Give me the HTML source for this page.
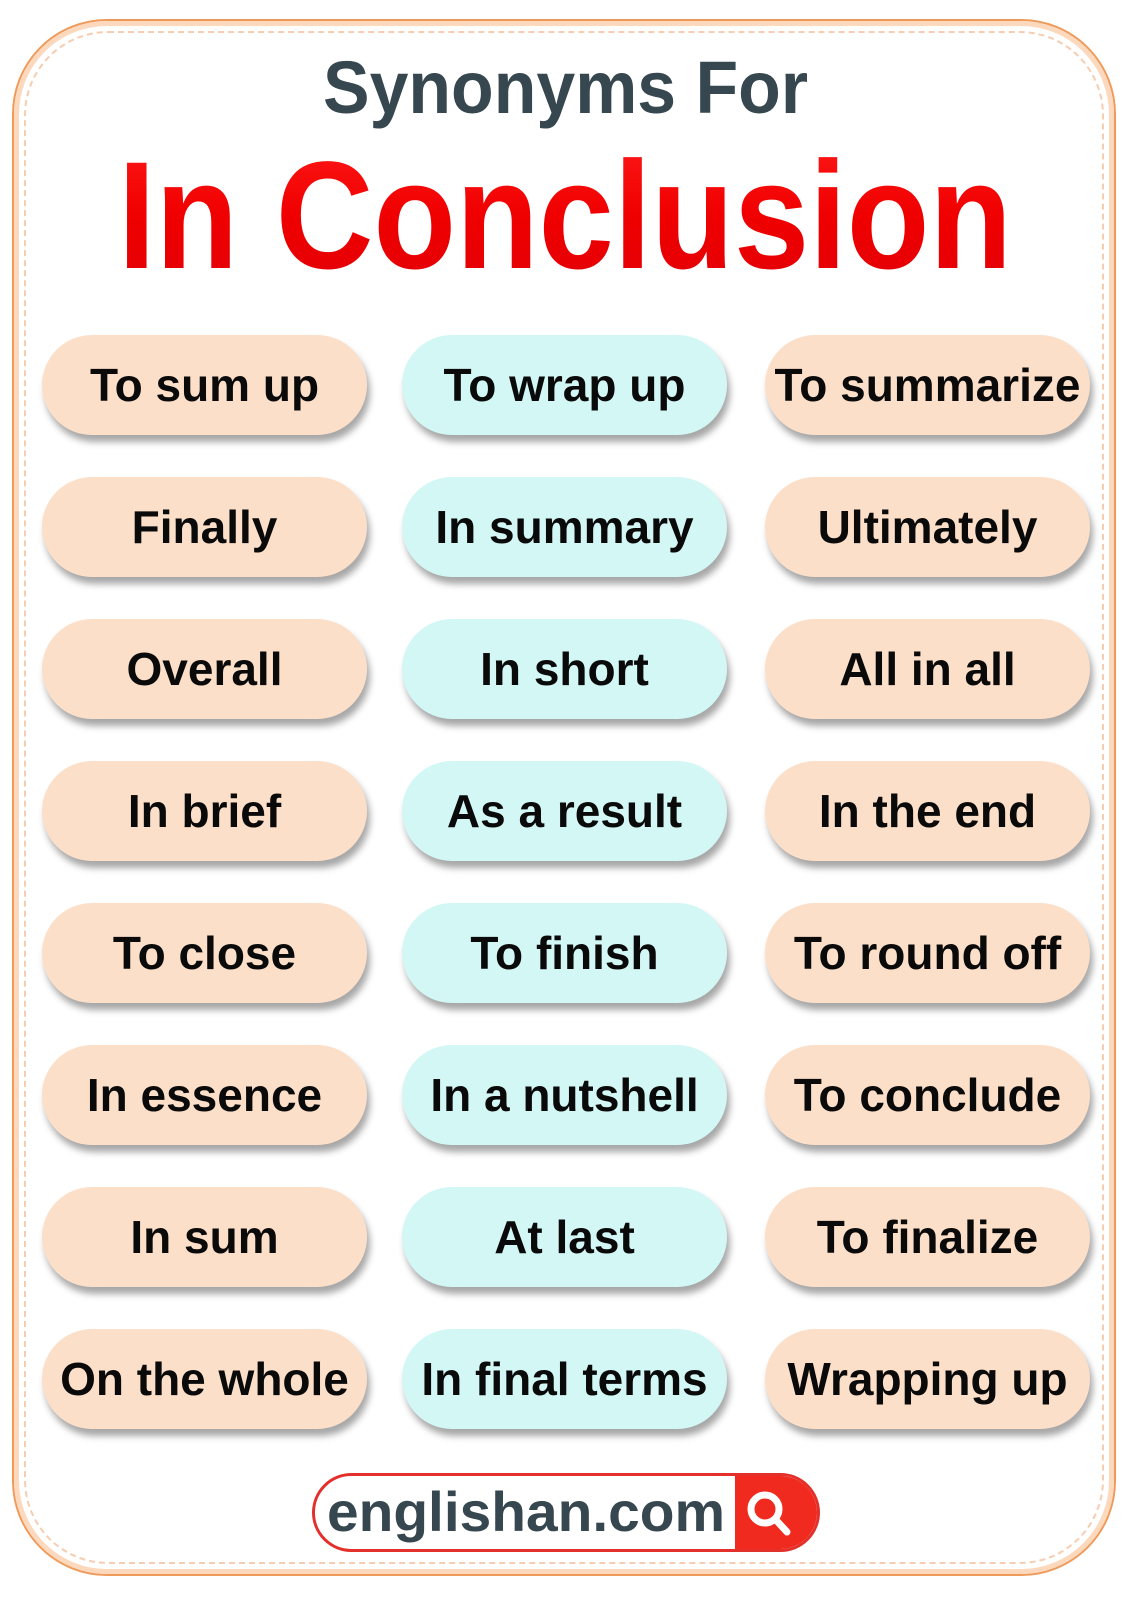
<!DOCTYPE html>
<html><head><meta charset="utf-8"><style>
html,body{margin:0;padding:0;background:#fff;}
body{width:1131px;height:1600px;position:relative;overflow:hidden;font-family:"Liberation Sans",Arial,sans-serif;}
.frame{position:absolute;left:12px;top:19px;width:1104px;height:1557px;border:2px solid #ef9a5a;border-radius:95px;box-sizing:border-box;}
.band{position:absolute;left:14px;top:21px;width:1100px;height:1553px;border:5px solid #fcd8bd;border-radius:93px;box-sizing:border-box;}
.dash{position:absolute;left:24px;top:31px;width:1080px;height:1533px;border:2px dashed #f6cdb0;border-radius:84px;box-sizing:border-box;}
.pill{position:absolute;width:325px;height:100px;border-radius:50px;box-shadow:3px 7px 7px rgba(60,60,60,0.45);display:flex;align-items:center;justify-content:center;font-weight:bold;font-size:46px;color:#0a0a0a;white-space:nowrap;}
.p{background:#fcdfc9;}
.c{background:#d3f7f5;}
.logo{position:absolute;left:312px;top:1473px;width:508px;height:79px;border:3px solid #e3302a;border-radius:40px;box-sizing:border-box;overflow:hidden;background:#fff;}
.logo .r{position:absolute;left:420px;top:0;right:0;bottom:0;background:#f02a1f;}
</style></head><body>
<div class="frame"></div><div class="band"></div><div class="dash"></div>
<svg width="1131" height="300" style="position:absolute;left:0;top:0">
<defs><linearGradient id="g" x1="0" y1="0" x2="0" y2="1"><stop offset="0" stop-color="#ff1a1a"/><stop offset="0.5" stop-color="#f00000"/><stop offset="1" stop-color="#e00008"/></linearGradient></defs>
<text x="323" y="113" font-family="Liberation Sans, Arial, sans-serif" font-weight="bold" font-size="74" fill="#37474f" textLength="485" lengthAdjust="spacingAndGlyphs">Synonyms For</text>
<text x="118" y="268" font-family="Liberation Sans, Arial, sans-serif" font-weight="bold" font-size="153" fill="url(#g)" textLength="894" lengthAdjust="spacingAndGlyphs">In Conclusion</text>
</svg>
<div class="pill p" style="left:42px;top:335px">To sum up</div>
<div class="pill c" style="left:402px;top:335px">To wrap up</div>
<div class="pill p" style="left:765px;top:335px">To summarize</div>
<div class="pill p" style="left:42px;top:477px">Finally</div>
<div class="pill c" style="left:402px;top:477px">In summary</div>
<div class="pill p" style="left:765px;top:477px">Ultimately</div>
<div class="pill p" style="left:42px;top:619px">Overall</div>
<div class="pill c" style="left:402px;top:619px">In short</div>
<div class="pill p" style="left:765px;top:619px">All in all</div>
<div class="pill p" style="left:42px;top:761px">In brief</div>
<div class="pill c" style="left:402px;top:761px">As a result</div>
<div class="pill p" style="left:765px;top:761px">In the end</div>
<div class="pill p" style="left:42px;top:903px">To close</div>
<div class="pill c" style="left:402px;top:903px">To finish</div>
<div class="pill p" style="left:765px;top:903px">To round off</div>
<div class="pill p" style="left:42px;top:1045px">In essence</div>
<div class="pill c" style="left:402px;top:1045px">In a nutshell</div>
<div class="pill p" style="left:765px;top:1045px">To conclude</div>
<div class="pill p" style="left:42px;top:1187px">In sum</div>
<div class="pill c" style="left:402px;top:1187px">At last</div>
<div class="pill p" style="left:765px;top:1187px">To finalize</div>
<div class="pill p" style="left:42px;top:1329px">On the whole</div>
<div class="pill c" style="left:402px;top:1329px">In final terms</div>
<div class="pill p" style="left:765px;top:1329px">Wrapping up</div>
<div class="logo">
<svg width="420" height="73" style="position:absolute;left:0;top:0"><text x="12" y="55" font-family="Liberation Sans, Arial, sans-serif" font-weight="bold" font-size="56" fill="#37474f" textLength="398" lengthAdjust="spacingAndGlyphs">englishan.com</text></svg>
<div class="r">
<svg width="85" height="73" style="position:absolute;left:0;top:0"><circle cx="30" cy="33" r="14" fill="none" stroke="#fff" stroke-width="7"/><line x1="41" y1="44" x2="52" y2="56" stroke="#fff" stroke-width="7" stroke-linecap="round"/></svg>
</div></div>
</body></html>
